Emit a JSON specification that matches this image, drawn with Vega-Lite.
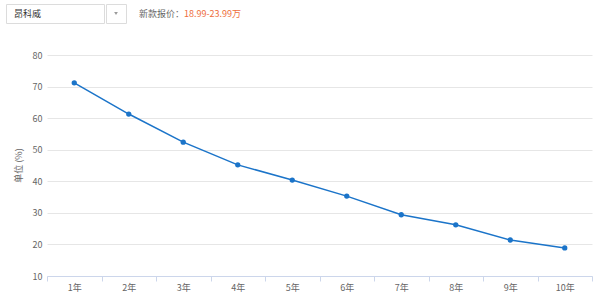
{
  "$schema": "https://vega.github.io/schema/vega-lite/v6.json",
  "padding": {"left": 5, "top": 3, "right": 8, "bottom": 0},
  "background": "white",
  "config": {
    "view": {"stroke": null},
    "font": "Noto Sans CJK SC",
    "concat": {"spacing": 0}
  },
  "spacing": 27,
  "vconcat": [
    {
      "spacing": 0,
      "hconcat": [
        {
          "width": 98,
          "height": 19,
          "view": {"stroke": "#dcdcdc", "strokeWidth": 1},
          "data": {"values": [{"t": "昂科威"}]},
          "mark": {"type": "text", "align": "left", "baseline": "middle", "dx": -41, "fontSize": 9, "color": "#333333", "font": "Noto Sans CJK SC"},
          "encoding": {"text": {"field": "t"}}
        },
        {
          "width": 20,
          "height": 19,
          "view": {"stroke": "#dcdcdc", "strokeWidth": 1},
          "data": {"values": [{"t": "arrow"}]},
          "mark": {"type": "point", "shape": "triangle-down", "filled": true, "size": 14, "color": "#9a9a9a", "opacity": 1},
          "encoding": {}
        },
        {
          "width": 120,
          "height": 19,
          "data": {"values": [{"label": "新款报价：", "price": "18.99-23.99万"}]},
          "layer": [
            {
              "mark": {"type": "text", "align": "left", "baseline": "middle", "dx": -48, "fontSize": 9, "color": "#666666", "font": "Noto Sans CJK SC"},
              "encoding": {"text": {"field": "label"}}
            },
            {
              "mark": {"type": "text", "align": "left", "baseline": "middle", "dx": -3, "fontSize": 9, "color": "#ee6d3b", "font": "Noto Sans CJK SC"},
              "encoding": {"text": {"field": "price"}}
            }
          ]
        }
      ]
    },
    {
      "spacing": 0,
      "hconcat": [
        {
          "width": 26,
          "height": 221,
          "data": {"values": [{"t": "单位 (%)"}]},
          "mark": {"type": "text", "angle": 270, "align": "center", "baseline": "middle", "fontSize": 9, "color": "#666666", "font": "Noto Sans CJK SC"},
          "encoding": {"text": {"field": "t"}}
        },
        {
          "width": 545,
          "height": 221,
          "data": {
            "values": [
              {"year": "1年", "value": 71.2},
              {"year": "2年", "value": 61.3},
              {"year": "3年", "value": 52.4},
              {"year": "4年", "value": 45.2},
              {"year": "5年", "value": 40.4},
              {"year": "6年", "value": 35.3},
              {"year": "7年", "value": 29.4},
              {"year": "8年", "value": 26.2},
              {"year": "9年", "value": 21.4},
              {"year": "10年", "value": 18.9}
            ]
          },
          "encoding": {
            "x": {
              "field": "year",
              "type": "ordinal",
              "sort": null,
              "scale": {"type": "band", "paddingInner": 0, "paddingOuter": 0},
              "axis": {
                "title": null,
                "labelAngle": 0,
                "labelFontSize": 9,
                "labelColor": "#666666",
                "labelFont": "Noto Sans CJK SC",
                "labelPadding": 2,
                "domainColor": "#ccd6eb",
                "tickColor": "#ccd6eb",
                "tickSize": 5,
                "tickBand": "extent",
                "grid": false
              }
            },
            "y": {
              "field": "value",
              "type": "quantitative",
              "scale": {"domain": [10, 80], "nice": false, "zero": false},
              "axis": {
                "title": null,
                "values": [10, 20, 30, 40, 50, 60, 70, 80],
                "labelFontSize": 9,
                "labelColor": "#666666",
                "labelPadding": 5,
                "domain": false,
                "ticks": false,
                "gridColor": "#e6e6e6",
                "gridWidth": 1
              }
            }
          },
          "layer": [
            {"mark": {"type": "line", "color": "#1b74c9", "strokeWidth": 1.5}},
            {"mark": {"type": "point", "filled": true, "color": "#1b74c9", "size": 28, "opacity": 1}}
          ]
        }
      ]
    }
  ]
}
